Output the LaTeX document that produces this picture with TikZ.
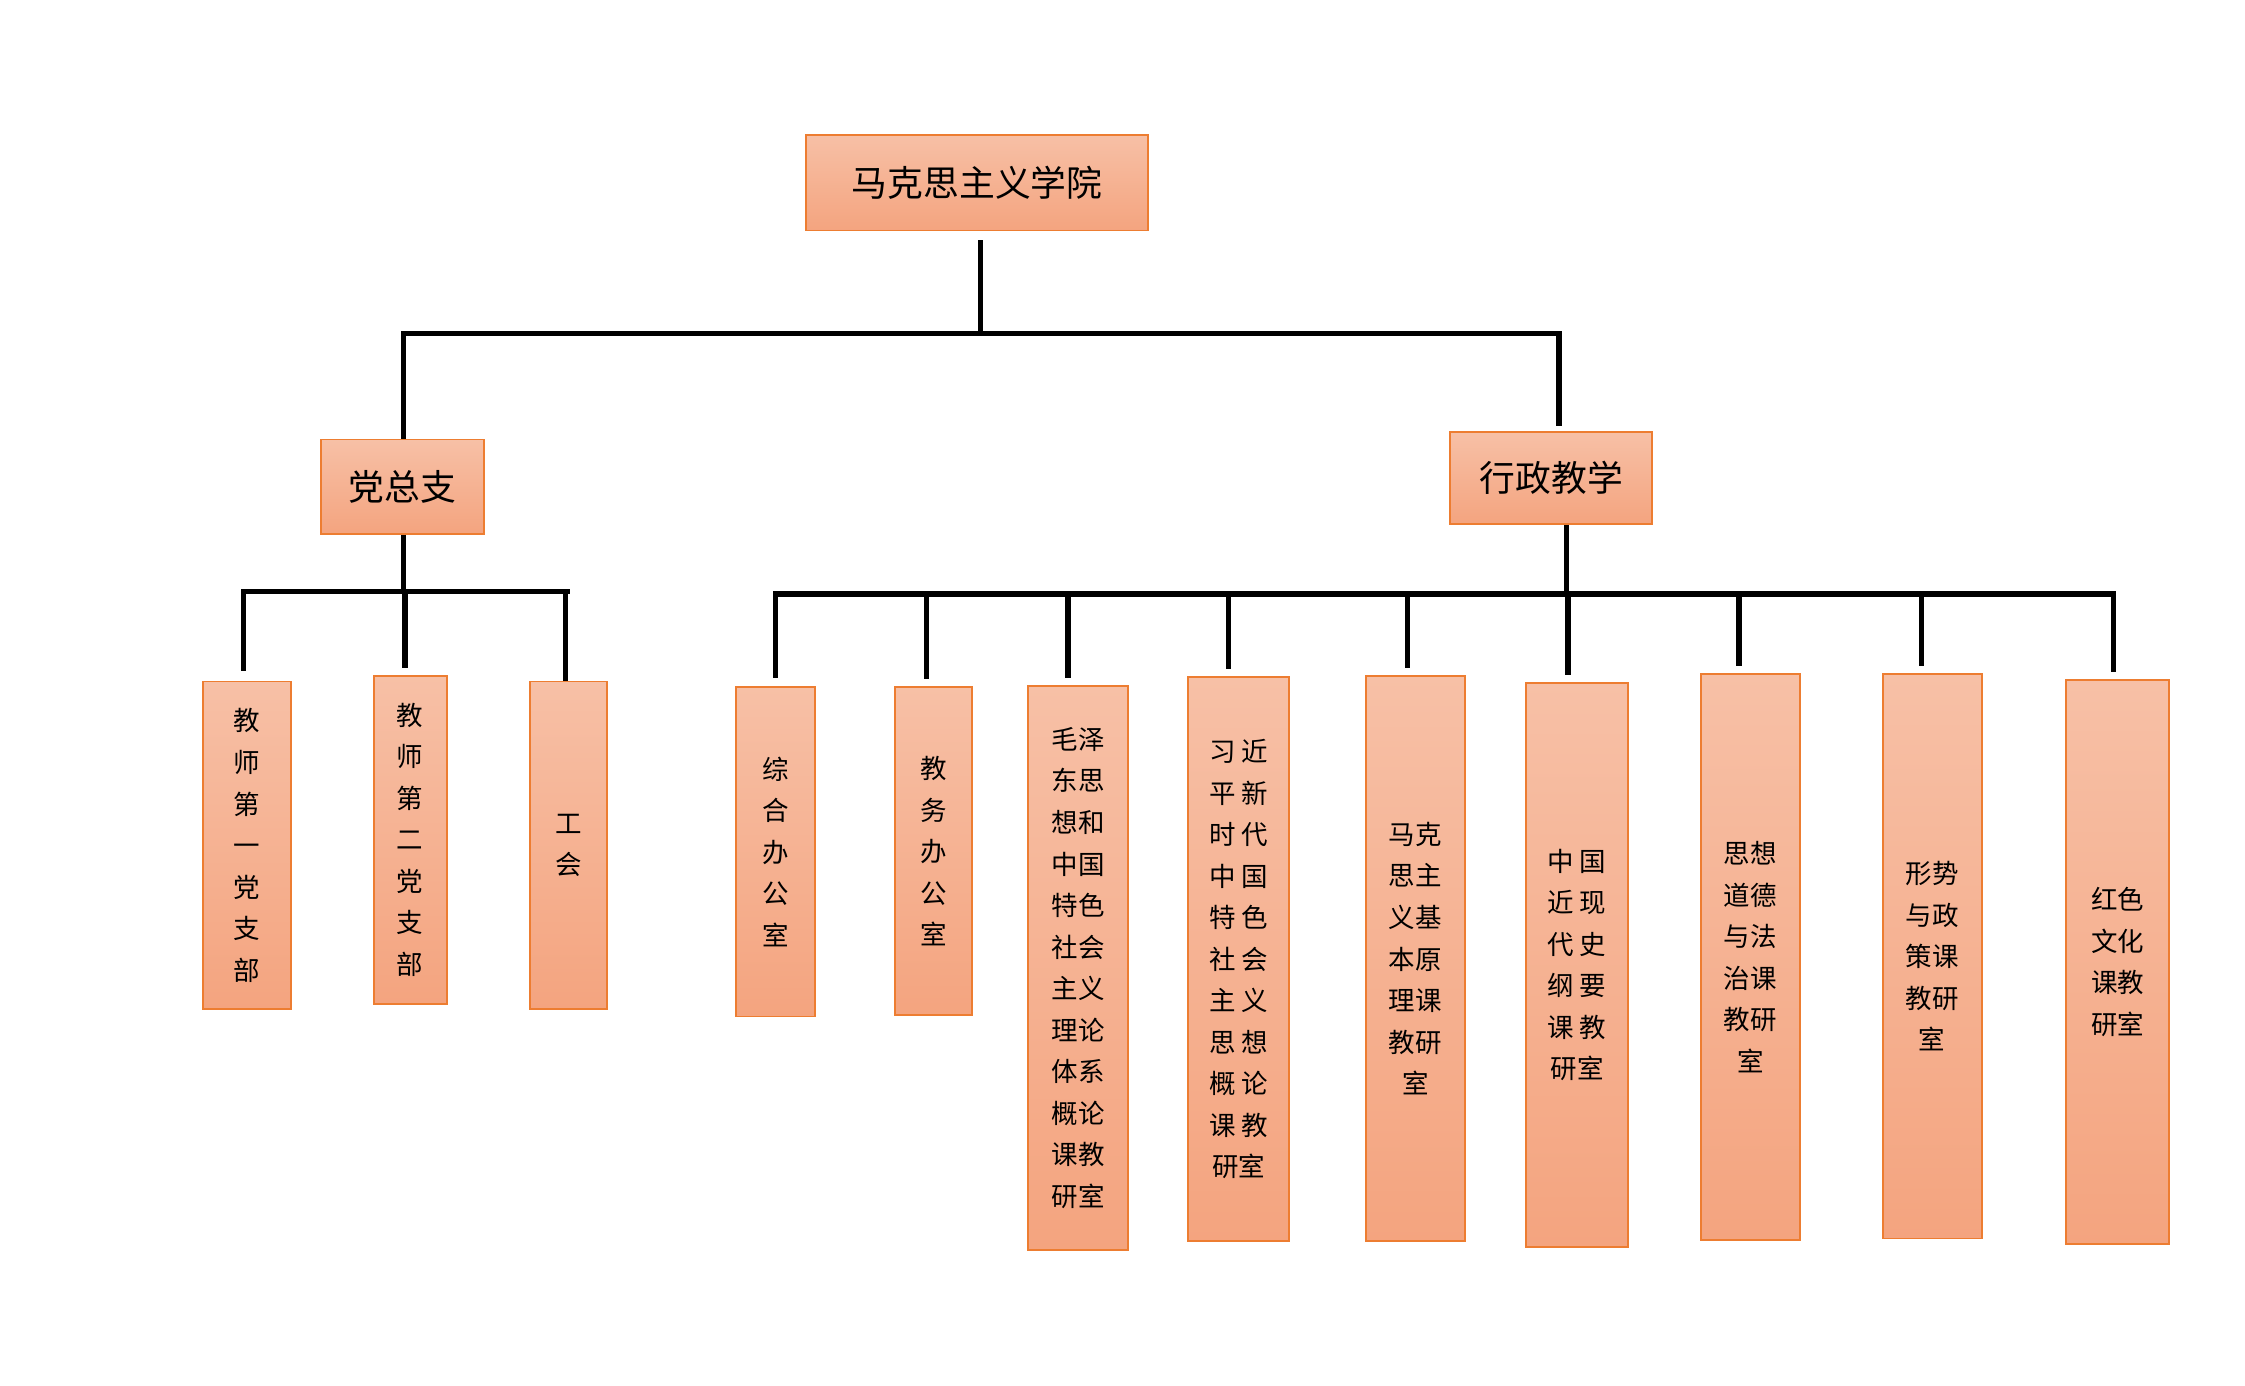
\documentclass[tikz,border=0pt]{standalone}
\usepackage{fontspec}
\newfontfamily\cjk{Noto Sans CJK SC}
\newcommand\cgap{\hspace{4pt}}
\definecolor{boxtop}{HTML}{F7C0A6}
\definecolor{boxbot}{HTML}{F4A47F}
\definecolor{boxline}{HTML}{ED7D31}
\begin{document}
\begin{tikzpicture}[x=1pt,y=-1pt,
  box/.style={draw=boxline, line width=1.3pt, top color=boxtop, bottom color=boxbot,
    inner sep=0pt, text=black, align=center},
  small/.style={font=\cjk\fontsize{18.5}{29}\selectfont},
  big/.style={font=\cjk\fontsize{25}{30}\selectfont},
  conn/.style={line width=3.8pt, black}]
\useasboundingbox (0,0) rectangle (1568,968);

% level 0 and 1
\node[box,big,minimum width=239pt,minimum height=67pt] (top) at (682.5,127.5) {马克思主义学院};
\node[box,big,minimum width=114pt,minimum height=66pt] (dzz) at (281,340) {党总支};
\node[box,big,minimum width=141pt,minimum height=64pt] (xz) at (1083.5,334) {行政教学};

% children of 党总支
\node[box,small,minimum width=61pt,minimum height=229pt] (c1) at (172.5,590.5) {教\\师\\第\\一\\党\\支\\部};
\node[box,small,minimum width=51pt,minimum height=229pt] (c2) at (286.5,586.5) {教\\师\\第\\二\\党\\支\\部};
\node[box,small,minimum width=54pt,minimum height=229pt] (c3) at (397,590.5) {工\\会};

% children of 行政教学
\node[box,small,minimum width=55pt,minimum height=230pt] (r1) at (541.5,595) {综\\合\\办\\公\\室};
\node[box,small,minimum width=54pt,minimum height=229pt] (r2) at (652,594.5) {教\\务\\办\\公\\室};
\node[box,small,minimum width=70pt,minimum height=394pt] (r3) at (753,676) {毛泽\\东思\\想和\\中国\\特色\\社会\\主义\\理论\\体系\\概论\\课教\\研室};
\node[box,small,minimum width=70pt,minimum height=394pt] (r4) at (865,670) {习\cgap 近\\平\cgap 新\\时\cgap 代\\中\cgap 国\\特\cgap 色\\社\cgap 会\\主\cgap 义\\思\cgap 想\\概\cgap 论\\课\cgap 教\\研室};
\node[box,small,minimum width=69pt,minimum height=395pt] (r5) at (988.5,669.5) {马克\\思主\\义基\\本原\\理课\\教研\\室};
\node[box,small,minimum width=71pt,minimum height=394pt] (r6) at (1101.5,674) {中\cgap 国\\近\cgap 现\\代\cgap 史\\纲\cgap 要\\课\cgap 教\\研室};
\node[box,small,minimum width=69pt,minimum height=395pt] (r7) at (1222.5,668.5) {思想\\道德\\与法\\治课\\教研\\室};
\node[box,small,minimum width=69pt,minimum height=394pt] (r8) at (1349.5,668) {形势\\与政\\策课\\教研\\室};
\node[box,small,minimum width=72pt,minimum height=394pt] (r9) at (1479,672) {红色\\文化\\课教\\研室};

% bar levels
\coordinate (lvl1) at (0,233);
\coordinate (lvl2) at (0,413);
\coordinate (lvl3) at (0,415);

% connectors: level 0 -> 1
\draw[conn] ([xshift=2.5pt,yshift=-6pt]top.south) -- ([xshift=2.5pt]top.south |- lvl1);
\draw[conn] ([xshift=1pt]dzz.north) -- ([xshift=1pt]dzz.north |- lvl1)
  -- ([xshift=5.5pt]xz.north |- lvl1) -- ([xshift=5.5pt,yshift=4pt]xz.north);

% 党总支 -> children
\draw[conn] ([xshift=1pt]dzz.south) -- ([xshift=1pt]dzz.south |- lvl2);
\draw[conn] ([xshift=-2.5pt,yshift=7pt]c1.north) -- ([xshift=-2.5pt]c1.north |- lvl2)
  -- ([xshift=1pt]c3.north |- lvl2);
\draw[conn] ([xshift=-2pt]c3.north |- lvl2) -- ([xshift=-2pt]c3.north);
\draw[conn] ([xshift=-3.5pt]c2.north |- lvl2) -- ([xshift=-3.5pt,yshift=5pt]c2.north);

% 行政教学 -> children
\draw[conn] ([xshift=10.5pt]xz.south) -- ([xshift=10.5pt]xz.south |- lvl3);
\draw[conn] ([yshift=6pt]r1.north) -- (r1.north |- lvl3) -- ([xshift=-3pt]r9.north |- lvl3)
  -- ([xshift=-3pt,yshift=5pt]r9.north);
\foreach \r/\dx in {r2/-5,r3/-7,r4/-7,r5/-5.5,r6/-6.5,r7/-8,r8/-7.5}
  \draw[conn] ([xshift=\dx pt]\r.north |- lvl3) -- ([xshift=\dx pt,yshift=5pt]\r.north);
\end{tikzpicture}
\end{document}
